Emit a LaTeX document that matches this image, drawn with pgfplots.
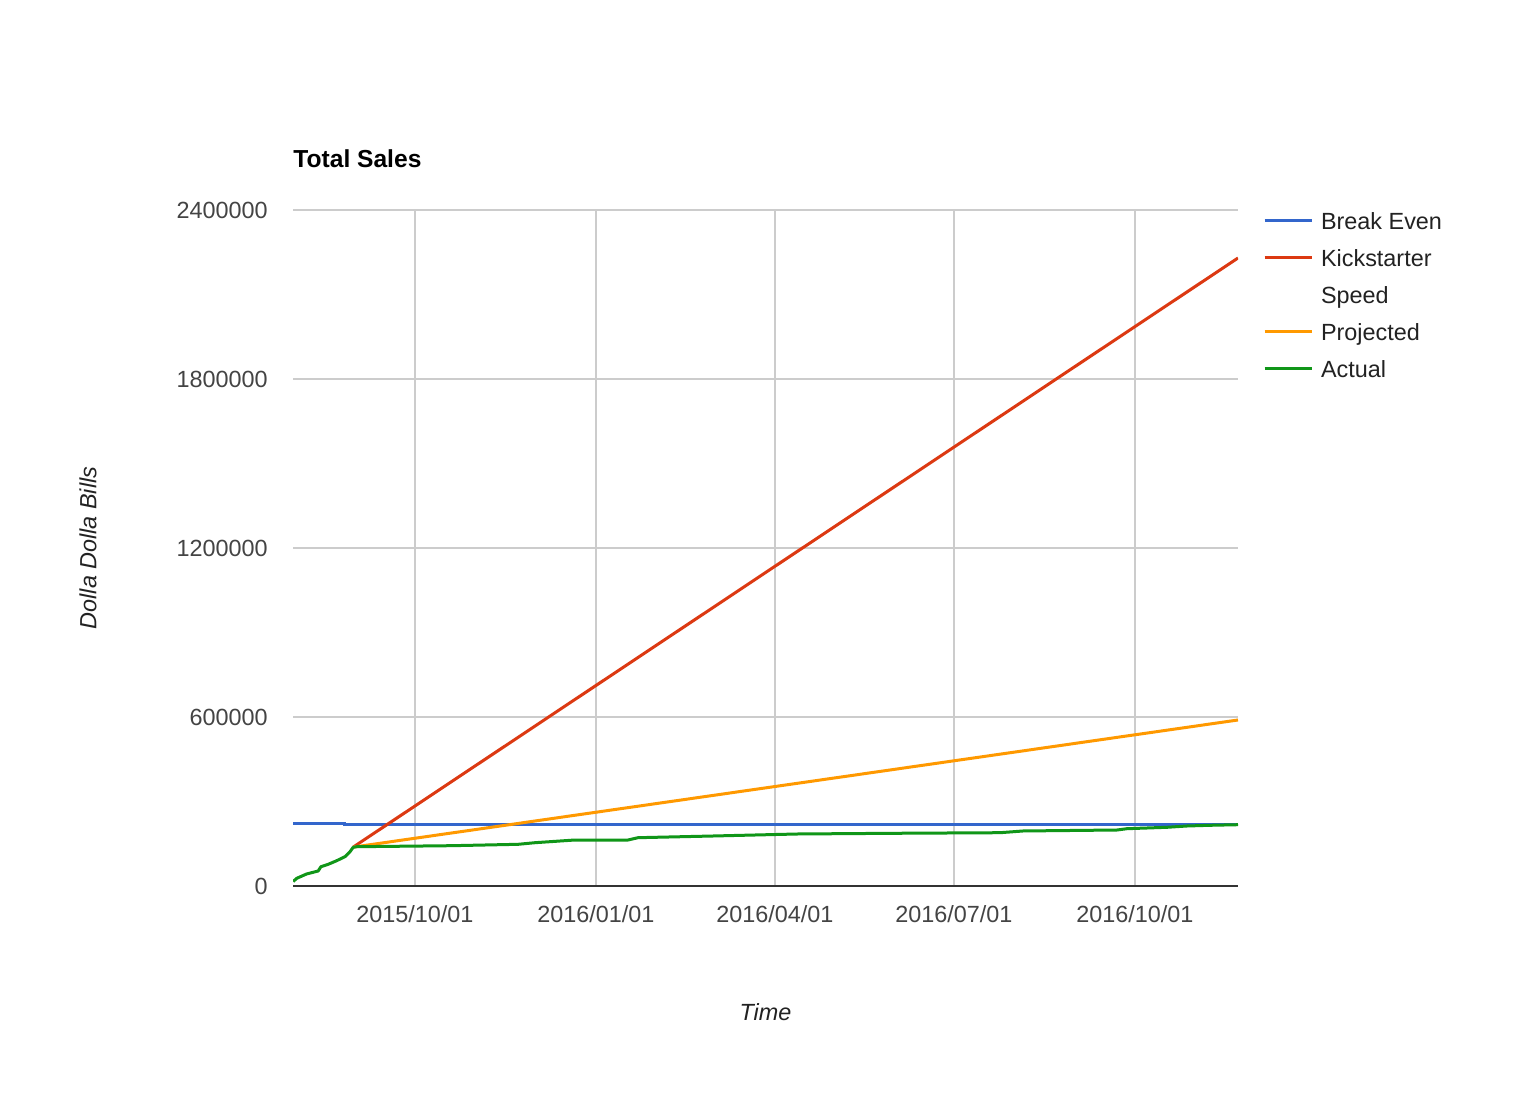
\documentclass[border=0pt]{standalone}
\usepackage{pgfplots}
\pgfplotsset{compat=1.18}
\usepackage{fontspec}
\setmainfont{Liberation Sans}
\definecolor{gblue}{HTML}{3366CC}
\definecolor{gred}{HTML}{DC3912}
\definecolor{gorange}{HTML}{FF9900}
\definecolor{ggreen}{HTML}{109618}
\definecolor{ggrid}{HTML}{CCCCCC}
\definecolor{axdark}{HTML}{333333}
\definecolor{ticktxt}{HTML}{444444}
\definecolor{labtxt}{HTML}{222222}
\begin{document}
\begin{tikzpicture}
\useasboundingbox (0,0) rectangle (766bp,548bp);
\fill[white] (0,0) rectangle (766bp,548bp);
\begin{axis}[
  at={(146.5bp,105bp)}, anchor=south west,
  scale only axis, width=472.5bp, height=338bp,
  font=\fontsize{11.7bp}{14bp}\selectfont,
  xmin=-62, xmax=418.4, ymin=0, ymax=2400000,
  xtick={0,92,183,274,366},
  xticklabels={2015/10/01,2016/01/01,2016/04/01,2016/07/01,2016/10/01},
  ytick={600000,1200000,1800000,2400000},
  extra y ticks={0},
  extra y tick style={major grid style={draw=axdark, line width=0.9bp}},
  scaled y ticks=false,
  grid=major,
  major grid style={draw=ggrid, line width=0.7bp},
  axis line style={draw=none},
  tick style={draw=none},
  major tick length=0pt,
  y tick label style={/pgf/number format/fixed, /pgf/number format/1000 sep={}, /pgf/number format/assume math mode=true, anchor=east, inner sep=0pt, xshift=-12.5bp, text=ticktxt},
  x tick label style={anchor=north, inner sep=0pt, yshift=-9.5bp, text=ticktxt},
  xlabel={\itshape Time},
  ylabel={\itshape Dolla Dolla Bills},
  xlabel style={at={(axis description cs:0.5,-0.1864)}, anchor=center, inner sep=0pt, text=labtxt},
  ylabel style={at={(axis description cs:-0.2169,0.5)}, anchor=center, rotate=0, inner sep=0pt, text=labtxt},
  title={\bfseries Total Sales},
  title style={at={(axis description cs:0,1)}, anchor=base west, yshift=15.5bp, inner sep=0pt, font=\fontsize{12.3bp}{14bp}\selectfont},
  legend cell align=left,
  legend style={draw=none, fill=none, inner sep=0pt, outer sep=0pt,
    at={(1.0265,0.9962)}, anchor=north west,
    row sep=10.1bp, column sep=4bp,
    nodes={inner sep=0pt, text height=8.4bp, text depth=0pt, text=labtxt},
    font=\fontsize{11.7bp}{14bp}\selectfont},
  legend image code/.code={\draw[#1, line width=1.5bp] (0bp,0bp) -- (23.5bp,0bp);},
]
\addplot[gblue, line width=1.5bp] coordinates {(-62,220500) (-36,220500) (-36,218000) (418.4,218000)};
\addlegendentry{Break Even}
\addplot[gred, line width=1.5bp] coordinates {(-31.4,138000) (418.4,2229600)};
\addlegendentry{Kickstarter}
\addlegendimage{empty legend}
\addlegendentry{Speed}
\addplot[gorange, line width=1.5bp] coordinates {(-31.4,138000) (418.4,589400)};
\addlegendentry{Projected}
\addplot[ggreen, line width=1.5bp, line join=round] coordinates {
(-61.9,16000) (-60.1,27300) (-55.1,42600) (-49.2,53300) (-47.8,68500)
(-44.1,77000) (-39.8,89800) (-35.6,104000) (-33.0,121800) (-31.4,137400)
(-29.6,139500) (18.7,143100) (52.4,148000) (61.0,153700) (81.3,163300)
(108.3,163300) (113.4,171500) (151.5,177500) (194.2,184600) (243.0,187100)
(297.4,189200) (309.1,195300) (356.9,198800) (361.9,203400) (382.3,208400)
(392.4,213000) (404.1,215500) (418.4,217600)};
\addlegendentry{Actual}
\end{axis}
\end{tikzpicture}
\end{document}
